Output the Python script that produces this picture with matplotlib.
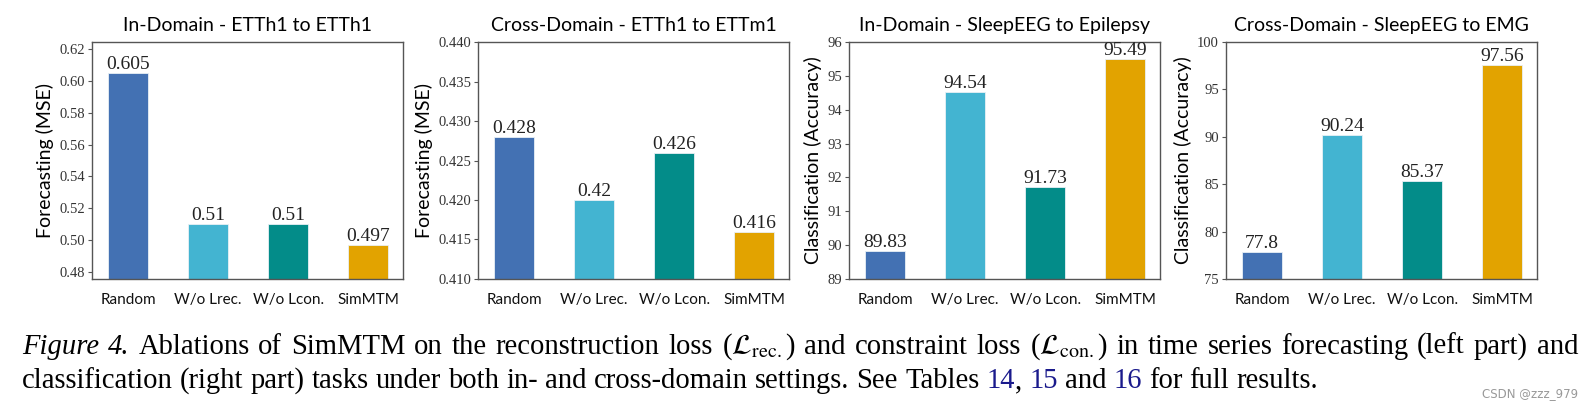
import matplotlib
matplotlib.use('Agg')
import matplotlib.pyplot as plt
from matplotlib.transforms import IdentityTransform

plt.rcParams['font.family'] = 'Liberation Serif'
plt.rcParams['mathtext.fontset'] = 'stix'

methods = ['Random', 'W/o Lrec.', 'W/o Lcon.', 'SimMTM']
bar_colors = ['#4371b3', '#43b4d1', '#038c89', '#e2a300']

titles = ['In-Domain - ETTh1 to ETTh1', 'Cross-Domain - ETTh1 to ETTm1',
          'In-Domain - SleepEEG to Epilepsy', 'Cross-Domain - SleepEEG to EMG']
ylabels = ['Forecasting (MSE)', 'Forecasting (MSE)',
           'Classification (Accuracy)', 'Classification (Accuracy)']

etth1_in = [0.605, 0.51, 0.51, 0.497]
etth1_cross = [0.428, 0.42, 0.426, 0.416]
epilepsy_in = [89.83, 94.54, 91.73, 95.49]
emg_cross = [77.8, 90.24, 85.37, 97.56]

value_labels = [['0.605', '0.51', '0.51', '0.497'],
                ['0.428', '0.42', '0.426', '0.416'],
                ['89.83', '94.54', '91.73', '95.49'],
                ['77.8', '90.24', '85.37', '97.56']]

ylims = [(0.4756, 0.6244), (0.410, 0.440), (89, 96), (75, 100)]
yticks = [[0.48, 0.50, 0.52, 0.54, 0.56, 0.58, 0.60, 0.62],
          [0.410, 0.415, 0.420, 0.425, 0.430, 0.435, 0.440],
          [89, 90, 91, 92, 93, 94, 95, 96],
          [75, 80, 85, 90, 95, 100]]
ytick_fmt = ['{:.2f}', '{:.3f}', '{:.0f}', '{:.0f}']

series = [etth1_in, etth1_cross, epilepsy_in, emg_cross]

fig = plt.figure(figsize=(15.93, 4.09), dpi=100)

lefts = [0.0578, 0.3001, 0.533, 0.7696]
sans = 'Lato'

for i in range(4):
    ax = fig.add_axes([lefts[i], 0.318, 0.195, 0.579])
    xs = list(range(len(methods)))
    ax.bar(xs, series[i], width=0.5, color=bar_colors,
           edgecolor='#e8f0f5', linewidth=0.6)
    ax.set_ylim(*ylims[i])
    ax.set_xlim(-0.45, 3.43)
    ax.set_yticks(yticks[i])
    ax.set_yticklabels([ytick_fmt[i].format(t) for t in yticks[i]],
                       fontsize=10.5, color='#333333')
    ax.set_xticks(xs)
    ax.set_xticklabels(methods, fontfamily=sans, fontsize=11, color='#111111')
    ax.tick_params(axis='x', length=0, pad=10)
    ax.tick_params(axis='y', length=3, width=0.8, color='#555555', pad=2)
    for s in ax.spines.values():
        s.set_color('#555555')
        s.set_linewidth(1.0)
    ax.set_title(titles[i], fontfamily=sans, fontsize=14, pad=8)
    ax.set_ylabel(ylabels[i], fontfamily=sans, fontsize=14, labelpad=4)
    for x, v, lab in zip(xs, series[i], value_labels[i]):
        ax.text(x, v, lab, ha='center', va='bottom', fontsize=14, color='#222222')

# caption (words placed in pixels; first line justified)
FS = 20.6
H = 409
renderer = fig.canvas.get_renderer()
blue = '#1a1a8c'

line1 = [('Figure', 'black', 'italic', True), ('4.', 'black', 'italic', True)]
for w in ['Ablations', 'of', 'SimMTM', 'on', 'the', 'reconstruction', 'loss',
          r'($\mathcal{L}_{\mathrm{rec.}}$)', 'and', 'constraint', 'loss',
          r'($\mathcal{L}_{\mathrm{con.}}$)', 'in', 'time', 'series', 'forecasting',
          '(left', 'part)', 'and']:
    line1.append((w, 'black', 'normal', True))

line2 = []
for w in ['classification', '(right', 'part)', 'tasks', 'under', 'both', 'in-',
          'and', 'cross-domain', 'settings.', 'See', 'Tables']:
    line2.append((w, 'black', 'normal', True))
line2 += [('14', blue, 'normal', False), (',', 'black', 'normal', True),
          ('15', blue, 'normal', True), ('and', 'black', 'normal', True),
          ('16', blue, 'normal', True), ('for', 'black', 'normal', True),
          ('full', 'black', 'normal', True), ('results.', 'black', 'normal', True)]


def width_of(t):
    return t.get_window_extent(renderer).width


probe_a = fig.text(0, 0, 'aa', fontsize=FS, transform=IdentityTransform())
probe_b = fig.text(0, 0, 'a a', fontsize=FS, transform=IdentityTransform())
space_w = width_of(probe_b) - width_of(probe_a)
probe_a.remove()
probe_b.remove()


def place_line(tokens, x0, baseline, right=None):
    arts = [fig.text(0, 0, w, fontsize=FS, color=c, fontstyle=st,
                     va='baseline', ha='left', transform=IdentityTransform())
            for w, c, st, sp in tokens]
    widths = [width_of(a) for a in arts]
    gaps = [space_w if sp else 0 for _, _, _, sp in tokens[:-1]]
    if right is not None:
        n_sp = sum(1 for g in gaps if g > 0)
        extra = (right - x0 - sum(widths) - sum(gaps)) / n_sp
        gaps = [g + extra if g > 0 else 0 for g in gaps]
    x = x0
    for k, a in enumerate(arts):
        a.set_position((x, H - baseline))
        x += widths[k] + (gaps[k] if k < len(gaps) else 0)


place_line(line1, 22, 354, right=1578)
place_line(line2, 22, 388)

fig.text(1578 / 1593, 1 - 394 / H, 'CSDN @zzz_979', fontfamily='DejaVu Sans',
         fontsize=8.5, color='#999999', ha='right', va='center')

fig.savefig('out.png', dpi=100)
